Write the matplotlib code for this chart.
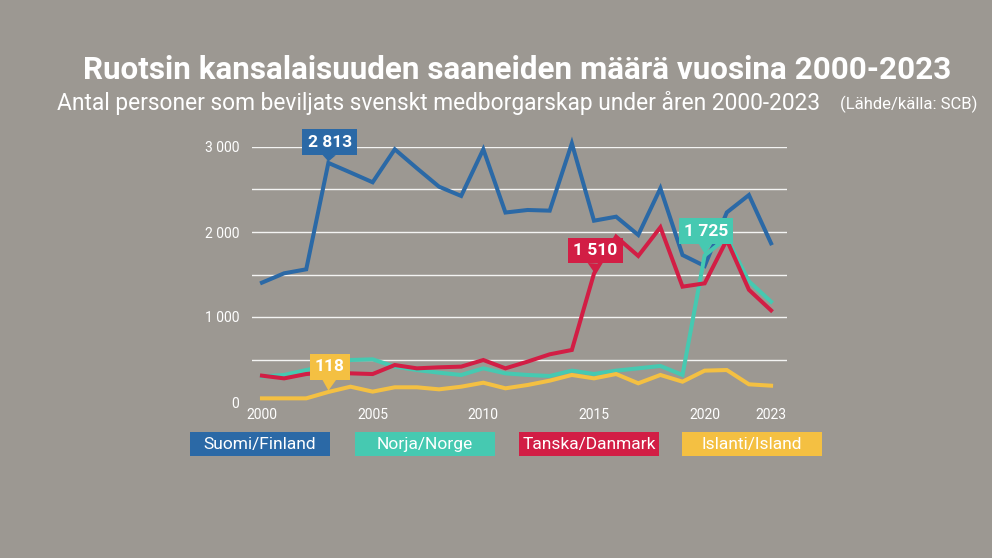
"""Swedish citizenship granted to Nordic citizens 2000-2023"""
import matplotlib
matplotlib.use("Agg")
from matplotlib import pyplot as plt
from matplotlib.patches import Rectangle

years = list(range(2000, 2024))
finland = [1404, 1514, 1561, 2813, 2700, 2585, 2973, 2750, 2533, 2424, 2973, 2229,
           2259, 2251, 3043, 2133, 2180, 1965, 2514, 1729, 1600, 2230, 2435, 1867]
norway = [300, 318, 376, 430, 494, 502, 416, 376, 345, 318, 396, 337,
          318, 306, 369, 329, 369, 396, 424, 318, 1725, 1930, 1420, 1180]
denmark = [310, 278, 329, 350, 337, 329, 435, 396, 408, 416, 494, 396,
           475, 561, 612, 1510, 1945, 1718, 2055, 1357, 1396, 1906, 1320, 1078]
iceland = [43, 43, 43, 118, 180, 122, 173, 173, 149, 180, 227, 161,
           200, 251, 318, 278, 329, 220, 318, 239, 369, 376, 208, 192]

names = ["Suomi/Finland", "Norja/Norge", "Tanska/Danmark", "Islanti/Island"]
series = [finland, norway, denmark, iceland]
colors = ["#2b69a6", "#46c9b1", "#d21e45", "#f4c042"]
# (country index, year, value shown in the callout)
callouts = [(0, 2003, 2813), (2, 2015, 1510), (1, 2020, 1725), (3, 2003, 118)]
lift = [15, 16.5, 17.5, 18]   # how far above the point each box sits, pt

bg = "#9c9892"
plt.rcParams["font.family"] = ["Roboto", "DejaVu Sans"]

fig = plt.figure(figsize=(9.92, 5.58), dpi=100, facecolor=bg)
ax = fig.add_axes([252 / 992, 1 - 402 / 558, 535 / 992, 255 / 558])
ax.set_facecolor(bg)
ax.set_xlim(1999.55, 2023.72)
ax.set_ylim(0, 3000)

for i, vals in enumerate(series):
    ax.plot(years, vals, color=colors[i], lw=2.9, zorder=3 + i, clip_on=False,
            solid_joinstyle="miter")

# grid every 500, labels every 1000, no line at zero
yt = list(range(0, 3001, 500))
ax.set_yticks(yt)
ax.set_yticklabels([f"{v:,}".replace(",", " ") if v % 1000 == 0 else "" for v in yt])
ax.grid(axis="y", color="white", lw=1.0, alpha=0.9)
ax.get_ygridlines()[0].set_visible(False)
ax.set_xticks([2000, 2005, 2010, 2015, 2020, 2023])
ax.tick_params(length=0, colors="white", labelsize=10)
ax.tick_params(axis="y", pad=9)
ax.tick_params(axis="x", pad=4)
for s in ax.spines.values():
    s.set_visible(False)

for k, (ci, yr, val) in enumerate(callouts):
    ax.annotate(f"{val:,}".replace(",", " "), xy=(yr, val), xytext=(1, lift[k]),
                textcoords="offset points", ha="center", va="center",
                fontsize=12.5, fontweight="bold", color="white", zorder=10,
                bbox=dict(boxstyle="square,pad=0.3", fc=colors[ci], ec="none"),
                arrowprops=dict(arrowstyle="wedge,tail_width=0.8", fc=colors[ci],
                                ec="none", shrinkA=0, shrinkB=1))

# legend boxes
lx = [190, 355, 519, 682]
for i, name in enumerate(names):
    fig.patches.append(Rectangle((lx[i] / 992, 1 - 456 / 558), 140 / 992, 24 / 558,
                                 transform=fig.transFigure, fc=colors[i], ec="none"))
    fig.text((lx[i] + 70) / 992, 1 - 444 / 558, name, ha="center", va="center",
             color="white", fontsize=12.5)

fig.text(517 / 992, 1 - 70 / 558, "Ruotsin kansalaisuuden saaneiden määrä vuosina 2000-2023",
         ha="center", va="center", color="white", fontsize=22.6, fontweight="bold")
fig.text(57 / 992, 1 - 103 / 558, "Antal personer som beviljats svenskt medborgarskap under åren 2000-2023",
         ha="left", va="center", color="white", fontsize=16.4)
fig.text(977 / 992, 1 - 104 / 558, "(Lähde/källa: SCB)",
         ha="right", va="center", color="white", fontsize=12)

fig.savefig("out.png", dpi=100, facecolor=bg)
